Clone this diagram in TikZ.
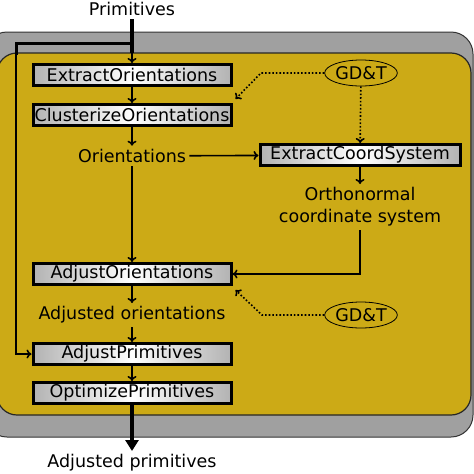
\documentclass[tikz,border=0pt]{standalone}
\usepackage{fontspec}
\setmainfont{DejaVu Sans}
\usetikzlibrary{shapes.geometric,arrows.meta}
\definecolor{panel}{RGB}{204,170,22}
\definecolor{frame}{RGB}{160,160,160}
\tikzset{
  stepbox/.style={draw=black,line width=3pt,minimum width=198pt,minimum height=21pt,inner sep=0pt,
    left color=gray!60,right color=gray!60,middle color=white},
  gdt/.style={ellipse,draw=black,line width=0.8pt,minimum width=70pt,minimum height=26pt,inner sep=0pt},
  flow/.style={line width=1.6pt,->},
  hint/.style={dotted,line width=1.6pt,->},
  feed/.style={line width=3.5pt}
}
\begin{document}
\begin{tikzpicture}[x=1pt,y=-1pt,>={To[length=5pt,width=9pt]},
    every node/.style={font=\fontsize{17.5}{22}\selectfont}]
      \useasboundingbox (0,0) rectangle (474,474);
      % panels
      \draw[fill=frame,draw=black!80,line width=1pt,rounded corners=22pt] (-15,32) rectangle (473,437);
      \draw[fill=panel,draw=black!85,line width=1.2pt,rounded corners=20pt] (-3,53) rectangle (471,415);
      % steps
      \node (prim) at (132,9) {Primitives};
      \node[stepbox] (extract) at (132,75) {ExtractOrientations};
      \node[stepbox] (cluster) at (132,115) {ClusterizeOrientations};
      \node (orient) at (132,156) {Orientations};
      \node[stepbox,minimum width=200pt] (coord) at (360,155) {ExtractCoordSystem};
      \node[align=center] (ortho) at (360,207) {Orthonormal\\coordinate system};
      \node[gdt] (gdtA) at (361,73) {GD\&T};
      \node[stepbox] (adjorient) at (132,274) {AdjustOrientations};
      \node (adjusted) at (132,315) {Adjusted orientations};
      \node[gdt] (gdtB) at (361,315) {GD\&T};
      \node[stepbox] (adjprim) at (132,354) {AdjustPrimitives};
      \node[stepbox] (optim) at (132,393) {OptimizePrimitives};
      \node (result) at (132,463) {Adjusted primitives};
      % input
      \coordinate (split) at (132,43);
      \coordinate (entry) at (132,53);
      \coordinate (side) at (16,43);
      \coordinate (sidein) at (16,55);
      \draw[feed] (prim) -- (entry);
      \draw[flow] (entry) -- (extract);
      \draw[feed,line width=3pt] (split) -- (side) -- (sidein);
      \draw[flow] (sidein) |- (adjprim);
      % flow
      \draw[flow] (extract) -- (cluster);
      \draw[flow] (cluster) -- (orient);
      \draw[flow] (orient) -- (coord);
      \draw[flow] (orient) -- (adjorient);
      \draw[flow] (coord) -- (ortho);
      \draw[flow] (ortho) |- (adjorient);
      \draw[flow] (adjorient) -- (adjusted);
      \draw[flow] (adjusted) -- (adjprim);
      \draw[flow] (adjprim) -- (optim);
      \draw[feed,-{Triangle[length=11pt,width=13pt]}] (optim) -- (result);
      % tolerances
      \coordinate (bendA) at (261,73);
      \coordinate (bendB) at (262,315);
      \draw[hint] (gdtA) -- (bendA) -- ([shift={(3,-4)}]cluster.north east);
      \draw[hint] (gdtA) -- (coord);
      \draw[hint] (gdtB) -- (bendB) -- ([shift={(3,4)}]adjorient.south east);
    \end{tikzpicture}
\end{document}
